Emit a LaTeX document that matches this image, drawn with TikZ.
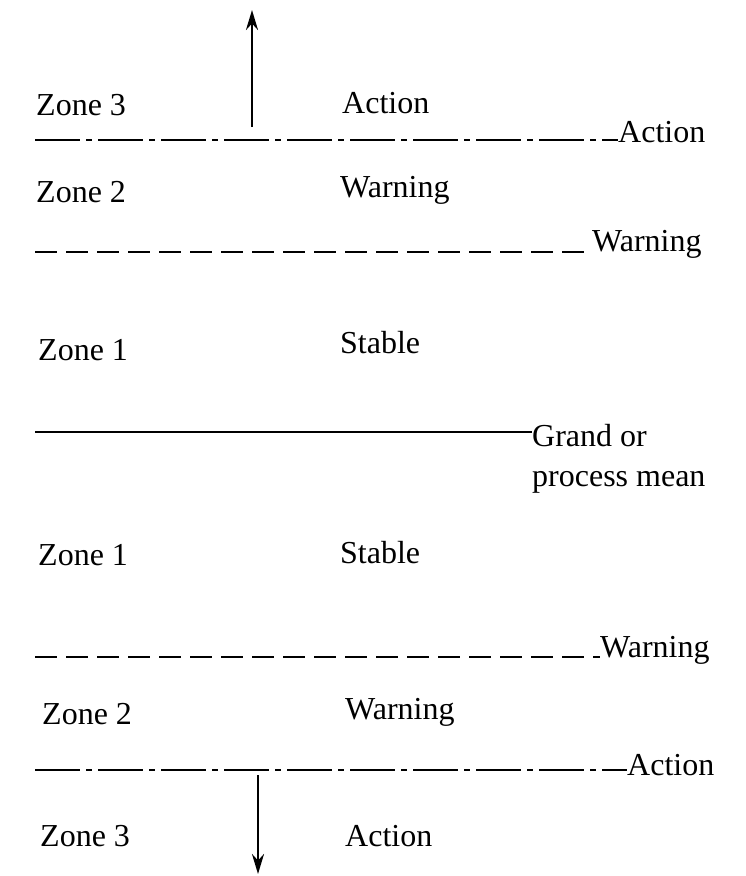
\documentclass[tikz,border=0pt]{standalone}
\usepackage{fontspec}
\setmainfont{Liberation Serif}
\usetikzlibrary{arrows.meta}
\begin{document}
\begin{tikzpicture}[x=1pt,y=-1pt,
  lbl/.style={anchor=west,inner sep=0pt,font=\fontsize{32}{40}\selectfont},
  ln/.style={line width=2.6pt},
  dd/.style={ln,dash pattern=on 45pt off 6pt on 6pt off 6pt},
  ds/.style={ln,dash pattern=on 22pt off 9pt},
  arr/.style={ln,-{Stealth[length=20pt,width=12pt]}}]
\useasboundingbox (0,0) rectangle (745,876);
\node[lbl] (z3a) at (36,105) {Zone 3};
\node[lbl] (aa) at (342,103) {Action};
\coordinate (a1s) at (35,140);
\node[lbl] (al1) at (618,132) {Action};
\draw[dd] (a1s) -- (a1s -| al1.west);
\coordinate (up0) at (252,127); \coordinate (up1) at (252,10);
\draw[arr] (up0) -- (up1);
\node[lbl] (z2a) at (36,192) {Zone 2};
\node[lbl] (wa) at (340,190) {Warning};
\coordinate (w1s) at (35,252);
\node[lbl] (wl1) at (592,244) {Warning};
\draw[ds] (w1s) -- (w1s -| wl1.west);
\node[lbl] (z1a) at (38,350) {Zone 1};
\node[lbl] (sa) at (340,343) {Stable};
\coordinate (ms) at (35,432);
\node[lbl,align=left,anchor=north west] (ml) at (532,424) {Grand or\\process mean};
\draw[ln] (ms) -- (ms -| ml.west);
\node[lbl] (z1b) at (38,555) {Zone 1};
\node[lbl] (sb) at (340,553) {Stable};
\coordinate (w2s) at (35,657);
\node[lbl] (wl2) at (600,650) {Warning};
\draw[ds] (w2s) -- (w2s -| wl2.west);
\node[lbl] (z2b) at (42,714) {Zone 2};
\node[lbl] (wb) at (345,712) {Warning};
\coordinate (a2s) at (35,770);
\node[lbl] (al2) at (627,765) {Action};
\draw[dd] (a2s) -- (a2s -| al2.west);
\coordinate (dn0) at (258,775); \coordinate (dn1) at (258,874);
\draw[arr] (dn0) -- (dn1);
\node[lbl] (z3b) at (40,836) {Zone 3};
\node[lbl] (ab) at (345,836) {Action};
\end{tikzpicture}
\end{document}
